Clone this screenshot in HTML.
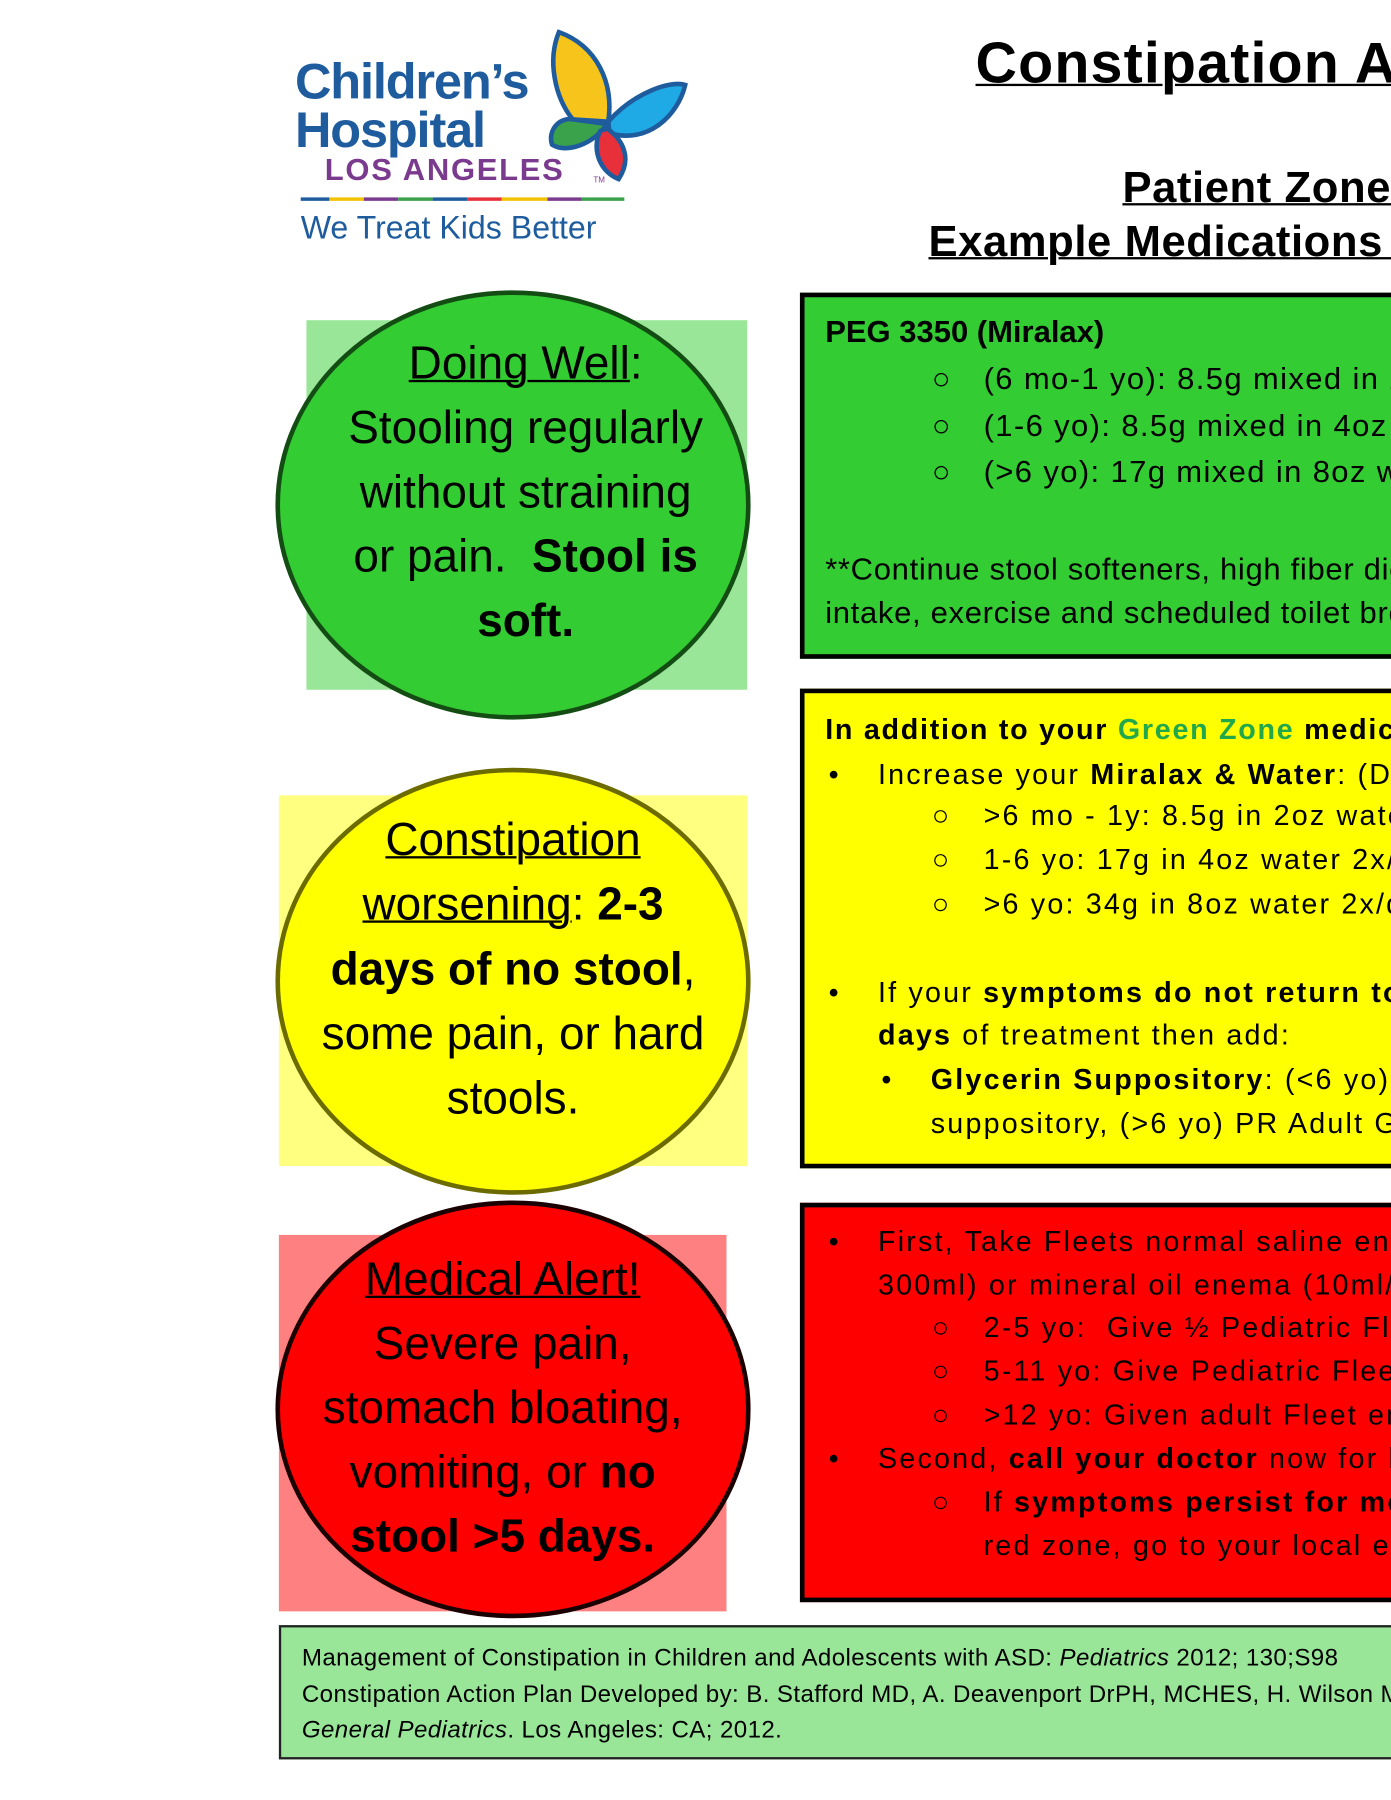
<!DOCTYPE html>
<html><head><meta charset="utf-8"><style>
html,body{margin:0;padding:0;background:#fff;width:1391px;height:1800px;overflow:hidden}
#w{position:absolute;left:0;top:0;width:1212px;height:1568px;transform:scale(1.14769);transform-origin:0 0;overflow:hidden;font-family:"Liberation Sans",sans-serif;color:#000}
.a{position:absolute;white-space:nowrap;line-height:1}
.c{position:absolute;white-space:nowrap;line-height:1;text-align:center;font-size:40px;width:440px}
.g{font-size:27px}
.y{font-size:25px;letter-spacing:1.9px}
.f{font-size:21px;letter-spacing:0.35px}
u{text-decoration-thickness:2px}
</style></head><body><div id="w">
<svg style="position:absolute;left:255px;top:22px" width="350" height="200" viewBox="0 0 350 200">
<text x="2" y="64" font-family="Liberation Sans" font-weight="bold" font-size="44" fill="#1e5c9e" letter-spacing="-1">Children’s</text>
<text x="2" y="106" font-family="Liberation Sans" font-weight="bold" font-size="44" fill="#1e5c9e" letter-spacing="-1">Hospital</text>
<text x="28" y="135" font-family="Liberation Sans" font-weight="bold" font-size="27" fill="#7a3a8e" letter-spacing="1.5">LOS ANGELES</text>
<text x="262" y="137" font-family="Liberation Sans" font-size="7" fill="#7a3a8e">TM</text>
<rect x="7" y="150" width="25" height="3" fill="#1e5c9e"/><rect x="32" y="150" width="30" height="3" fill="#f2c200"/><rect x="62" y="150" width="30" height="3" fill="#7a3a8e"/><rect x="92" y="150" width="30" height="3" fill="#3aa24a"/><rect x="122" y="150" width="30" height="3" fill="#1e5c9e"/><rect x="152" y="150" width="30" height="3" fill="#e8303a"/><rect x="182" y="150" width="40" height="3" fill="#f2c200"/><rect x="222" y="150" width="30" height="3" fill="#7a3a8e"/><rect x="252" y="150" width="37" height="3" fill="#3aa24a"/>
<text x="7" y="186" font-family="Liberation Sans" font-size="28" fill="#1e5c9e">We Treat Kids Better</text>
<path d="M232 6 C265 18 280 50 275 84 L244 82 C228 62 222 30 232 6Z" fill="#f7c41c" stroke="#1e5c9e" stroke-width="4"/>
<path d="M275 84 C298 58 330 48 342 52 C336 78 310 104 276 94Z" fill="#1faae6" stroke="#1e5c9e" stroke-width="4"/>
<path d="M244 82 L274 86 C262 104 238 112 226 104 C222 92 232 80 244 82Z" fill="#3aa24a" stroke="#1e5c9e" stroke-width="4"/>
<path d="M274 90 C288 100 296 116 284 134 C268 128 260 108 268 92Z" fill="#e8303a" stroke="#1e5c9e" stroke-width="4"/>
</svg>
<div class="a" style="left:850px;top:30px;font-size:50px;font-weight:bold;letter-spacing:1px"><u>Constipation Action Plan</u></div>
<div class="a" style="left:978px;top:145px;font-size:38px;font-weight:bold;letter-spacing:0.5px"><u>Patient Zones</u></div>
<div class="a" style="left:809px;top:192px;font-size:38px;font-weight:bold;letter-spacing:0.5px"><u>Example Medications and Doses</u></div>

<div style="position:absolute;left:267px;top:279px;width:384px;height:322px;background:#99e699"></div>
<div style="position:absolute;left:243px;top:693px;width:408px;height:323px;background:#ffff80"></div>
<div style="position:absolute;left:243px;top:1076px;width:390px;height:328px;background:#ff8080"></div>
<svg style="position:absolute;left:0;top:0" width="700" height="1420">
<ellipse cx="447" cy="440" rx="205" ry="185" fill="#33cc33" stroke="#144d14" stroke-width="4"/>
<ellipse cx="447" cy="855" rx="205" ry="184" fill="#ffff00" stroke="#6b6b00" stroke-width="4"/>
<ellipse cx="447" cy="1228" rx="205" ry="180" fill="#ff0000" stroke="#1a0000" stroke-width="4"/>
</svg>
<div class="c" style="left:238px;top:297px"><u>Doing Well</u>:</div>
<div class="c" style="left:238px;top:353px">Stooling regularly</div>
<div class="c" style="left:238px;top:409px">without straining</div>
<div class="c" style="left:238px;top:465px">or pain.&nbsp; <b>Stool is</b></div>
<div class="c" style="left:238px;top:521px"><b>soft.</b></div>

<div class="c" style="left:227px;top:712px"><u>Constipation</u></div>
<div class="c" style="left:227px;top:768px"><u>worsening</u>: <b>2-3</b></div>
<div class="c" style="left:227px;top:825px"><b>days of no stool</b>,</div>
<div class="c" style="left:227px;top:881px">some pain, or hard</div>
<div class="c" style="left:227px;top:937px">stools.</div>

<div class="c" style="left:218px;top:1095px"><u>Medical Alert!</u></div>
<div class="c" style="left:218px;top:1151px">Severe pain,</div>
<div class="c" style="left:218px;top:1207px">stomach bloating,</div>
<div class="c" style="left:218px;top:1263px">vomiting, or <b>no</b></div>
<div class="c" style="left:218px;top:1319px"><b>stool &gt;5 days.</b></div>

<div style="position:absolute;left:697px;top:255px;width:600px;height:311px;background:#33cc33;border:4px solid #000"></div>
<div class="a g" style="left:719px;top:276px;font-weight:bold">PEG 3350 (Miralax)</div>
<div class="a g" style="left:812px;top:317px">○</div><div class="a g" style="left:857px;top:317px;letter-spacing:1.2px">(6 mo-1 yo): 8.5g mixed in 2oz water daily</div>
<div class="a g" style="left:812px;top:358px">○</div><div class="a g" style="left:857px;top:358px;letter-spacing:1.2px">(1-6 yo): 8.5g mixed in 4oz water daily</div>
<div class="a g" style="left:812px;top:398px">○</div><div class="a g" style="left:857px;top:398px;letter-spacing:1.2px">(&gt;6 yo): 17g mixed in 8oz water daily</div>
<div class="a g" style="left:719px;top:483px;letter-spacing:0.6px">**Continue stool softeners, high fiber diet, water</div>
<div class="a g" style="left:719px;top:521px;letter-spacing:0.6px">intake, exercise and scheduled toilet breaks</div>

<div style="position:absolute;left:697px;top:600px;width:600px;height:410px;background:#ffff00;border:4px solid #000"></div>
<div class="a y" style="left:719px;top:624px;font-weight:bold;letter-spacing:1.5px">In addition to your <span style="color:#22a84a">Green Zone</span> medications:</div>
<div class="a y" style="left:722px;top:663px">•</div><div class="a y" style="left:765px;top:663px">Increase your <b>Miralax &amp; Water</b>: (Dissolve)</div>
<div class="a y" style="left:812px;top:699px">○</div><div class="a y" style="left:857px;top:699px">&gt;6 mo - 1y: 8.5g in 2oz water 2x/day</div>
<div class="a y" style="left:812px;top:737px">○</div><div class="a y" style="left:857px;top:737px">1-6 yo: 17g in 4oz water 2x/day</div>
<div class="a y" style="left:812px;top:776px">○</div><div class="a y" style="left:857px;top:776px">&gt;6 yo: 34g in 8oz water 2x/day</div>
<div class="a y" style="left:722px;top:853px">•</div><div class="a y" style="left:765px;top:853px">If your <b>symptoms do not return to the green zone in 2</b></div>
<div class="a y" style="left:765px;top:890px"><b>days</b> of treatment then add:</div>
<div class="a y" style="left:768px;top:929px">•</div><div class="a y" style="left:811px;top:929px"><b>Glycerin Suppository</b>: (&lt;6 yo) PR Pediatric Glycerin</div>
<div class="a y" style="left:811px;top:967px">suppository, (&gt;6 yo) PR Adult Glycerin suppository</div>

<div style="position:absolute;left:697px;top:1048px;width:600px;height:340px;background:#ff0000;border:4px solid #000"></div>
<div class="a y" style="left:722px;top:1070px">•</div><div class="a y" style="left:765px;top:1070px">First, Take Fleets normal saline enema (10ml/kg, max</div>
<div class="a y" style="left:765px;top:1108px">300ml) or mineral oil enema (10ml/kg, max 300ml)</div>
<div class="a y" style="left:812px;top:1145px">○</div><div class="a y" style="left:857px;top:1145px">2-5 yo:&nbsp; Give ½ Pediatric Fleet enema</div>
<div class="a y" style="left:812px;top:1183px">○</div><div class="a y" style="left:857px;top:1183px">5-11 yo: Give Pediatric Fleet enema</div>
<div class="a y" style="left:812px;top:1221px">○</div><div class="a y" style="left:857px;top:1221px">&gt;12 yo: Given adult Fleet enema</div>
<div class="a y" style="left:722px;top:1259px">•</div><div class="a y" style="left:765px;top:1259px">Second, <b>call your doctor</b> now for help</div>
<div class="a y" style="left:812px;top:1297px">○</div><div class="a y" style="left:857px;top:1297px">If <b>symptoms persist for more than 1 day</b> in the</div>
<div class="a y" style="left:857px;top:1335px">red zone, go to your local emergency room</div>

<div style="position:absolute;left:243px;top:1416px;width:1060px;height:113px;background:#99e699;border:2px solid #222"></div>
<div class="a f" style="left:263px;top:1434px">Management of Constipation in Children and Adolescents with ASD: <i>Pediatrics</i> 2012; 130;S98</div>
<div class="a f" style="left:263px;top:1466px">Constipation Action Plan Developed by: B. Stafford MD, A. Deavenport DrPH, MCHES, H. Wilson MD,</div>
<div class="a f" style="left:263px;top:1497px"><i>General Pediatrics</i>. Los Angeles: CA; 2012.</div>
</div></body></html>
